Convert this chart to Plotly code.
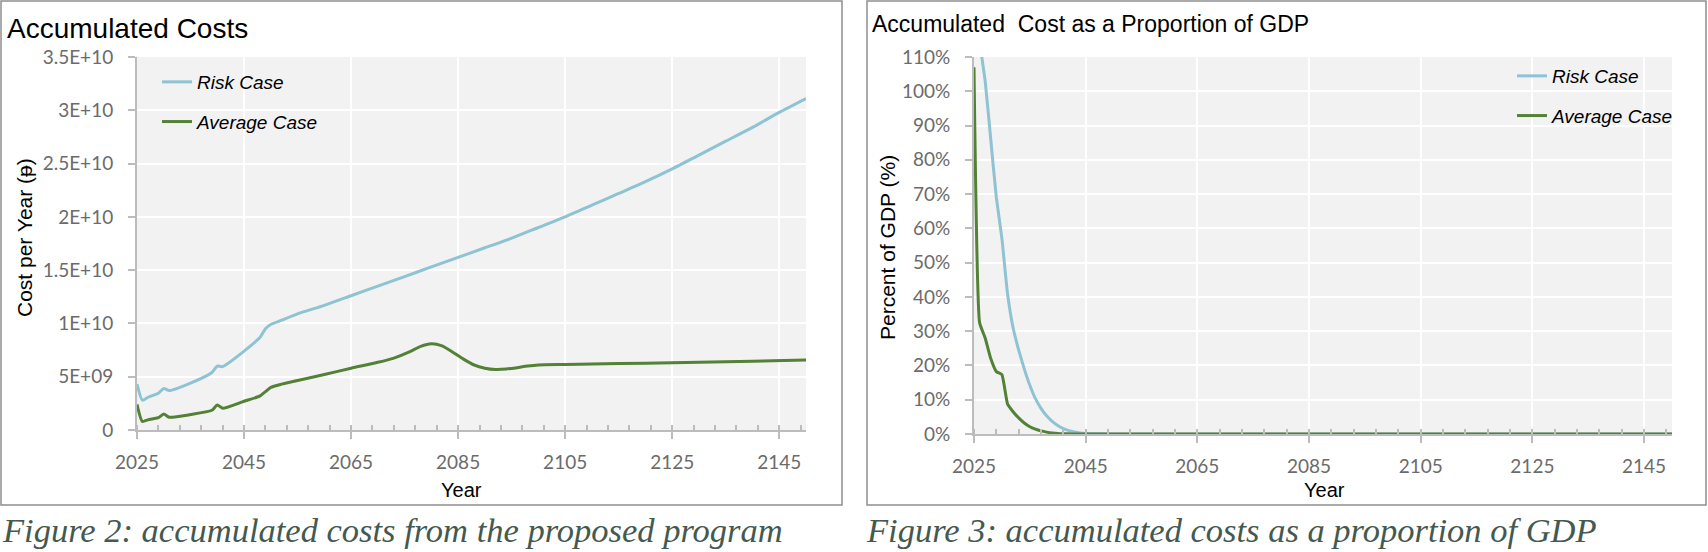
import plotly.graph_objects as go

# Figure 2 - accumulated costs (values in pesos)
cost_years = [2025, 2026, 2027, 2028, 2029, 2030, 2031, 2035, 2039, 2040, 2041,
              2045, 2048, 2049, 2050, 2052, 2055, 2060, 2065, 2070, 2075, 2080,
              2085, 2090, 2095, 2100, 2105, 2110, 2115, 2120, 2125, 2130, 2135,
              2140, 2145, 2150]
risk_cost = [4.3e9, 2.8e9, 3.05e9, 3.25e9, 3.45e9, 3.9e9, 3.7e9, 4.4e9, 5.4e9,
             6.0e9, 5.95e9, 7.4e9, 8.7e9, 9.5e9, 9.9e9, 10.3e9, 10.9e9, 11.7e9,
             12.6e9, 13.5e9, 14.4e9, 15.3e9, 16.2e9, 17.1e9, 18.0e9, 19.0e9,
             20.0e9, 21.1e9, 22.2e9, 23.3e9, 24.5e9, 25.8e9, 27.1e9, 28.4e9,
             29.8e9, 31.1e9]

avg_years = [2025, 2026, 2027, 2028, 2029, 2030, 2031, 2035, 2039, 2040, 2041,
             2045, 2048, 2049, 2050, 2052, 2055, 2060, 2065, 2070, 2073, 2076,
             2078, 2080, 2082, 2084, 2086, 2088, 2090, 2092, 2094, 2096, 2098,
             2100, 2105, 2110, 2120, 2130, 2140, 2150]
avg_cost = [2.4e9, 0.8e9, 0.95e9, 1.05e9, 1.15e9, 1.5e9, 1.2e9, 1.45e9, 1.85e9,
            2.35e9, 2.05e9, 2.7e9, 3.2e9, 3.6e9, 4.0e9, 4.3e9, 4.65e9, 5.2e9,
            5.8e9, 6.35e9, 6.75e9, 7.35e9, 7.85e9, 8.1e9, 7.9e9, 7.3e9, 6.65e9,
            6.1e9, 5.8e9, 5.68e9, 5.72e9, 5.85e9, 6.0e9, 6.1e9, 6.15e9, 6.2e9,
            6.27e9, 6.35e9, 6.45e9, 6.58e9]

cost_tickvals = [0, 5e9, 1e10, 1.5e10, 2e10, 2.5e10, 3e10, 3.5e10]
cost_ticktext = ["0", "5E+09", "1E+10", "1.5E+10", "2E+10", "2.5E+10", "3E+10", "3.5E+10"]

# Figure 3 - accumulated cost as share of GDP (percent)
gdp_years = [2025, 2026, 2027, 2028, 2029, 2030, 2031, 2032, 2033, 2034, 2035,
             2036, 2037, 2038, 2039, 2040, 2041, 2042, 2043, 2044, 2045, 2046,
             2050, 2100, 2150]
risk_pct = [160, 115, 103, 86, 69, 57, 41, 31, 24.5, 19, 14.2, 10.3, 7.5, 5.3,
            3.7, 2.5, 1.6, 1.0, 0.6, 0.3, 0.15, 0.08, 0.02, 0, 0]
avg_pct = [107, 32.5, 28, 22, 18.2, 17.3, 8.8, 6.5, 4.7, 3.2, 2.1, 1.4, 0.9,
           0.55, 0.3, 0.15, 0.08, 0.04, 0.02, 0.01, 0, 0, 0, 0, 0]

pct_tickvals = [0, 10, 20, 30, 40, 50, 60, 70, 80, 90, 100, 110]
pct_ticktext = ["0%", "10%", "20%", "30%", "40%", "50%", "60%", "70%", "80%",
                "90%", "100%", "110%"]

W, H = 1708, 552
blue = "#8dc3d3"
green = "#538135"
axis_grey = "#bcbcbc"
tick_font = dict(family="Lato, Open Sans, sans-serif", size=19, color="#6b6b6b")
xlabel_font = dict(family="Liberation Sans, Arial, sans-serif", size=20, color="black")
ylabel_font = dict(family="Liberation Sans, Arial, sans-serif", size=21, color="black")
legend_font = dict(family="Liberation Sans, Arial, sans-serif", size=19, color="black", style="italic")


def px(x):
    return x / W


def py(y):
    return 1 - y / H


def year_axis(domain, anchor):
    return dict(
        domain=domain, anchor=anchor, range=[2025, 2150], automargin=False,
        tickmode="linear", tick0=2025, dtick=20,
        ticks="outside", ticklen=7, tickwidth=2, tickcolor=axis_grey,
        showline=True, linecolor=axis_grey, linewidth=2,
        showgrid=True, gridcolor="white", gridwidth=2, zeroline=False,
        minor=dict(tick0=2025, dtick=4, ticks="inside", ticklen=5,
                   tickwidth=1.5, tickcolor=axis_grey, showgrid=False),
        tickfont=tick_font, ticklabelstandoff=7,
    )


def value_axis(domain, anchor, rng, vals, text):
    return dict(
        domain=domain, anchor=anchor, range=rng, automargin=False,
        tickmode="array", tickvals=vals, ticktext=text,
        ticks="outside", ticklen=7, tickwidth=2, tickcolor=axis_grey,
        showline=True, linecolor=axis_grey, linewidth=2,
        showgrid=True, gridcolor="white", gridwidth=2, zeroline=False,
        tickfont=tick_font, ticklabelstandoff=11,
    )


fig = go.Figure()

fig.add_trace(go.Scatter(x=cost_years, y=risk_cost, name="Risk Case", mode="lines",
                         line=dict(color=blue, width=3, shape="spline", smoothing=0.6),
                         xaxis="x", yaxis="y", legend="legend", legendgroup="r1"))
fig.add_trace(go.Scatter(x=avg_years, y=avg_cost, name="Average Case", mode="lines",
                         line=dict(color=green, width=3, shape="spline", smoothing=0.6),
                         xaxis="x", yaxis="y", legend="legend", legendgroup="a1"))
fig.add_trace(go.Scatter(x=gdp_years, y=risk_pct, name="Risk Case", mode="lines",
                         line=dict(color=blue, width=3, shape="spline", smoothing=0.4),
                         xaxis="x2", yaxis="y2", legend="legend2", legendgroup="r2"))
fig.add_trace(go.Scatter(x=gdp_years, y=avg_pct, name="Average Case", mode="lines",
                         line=dict(color=green, width=3, shape="spline", smoothing=0.4),
                         xaxis="x2", yaxis="y2", legend="legend2", legendgroup="a2"))

fig.update_layout(
    width=W, height=H,
    margin=dict(l=0, r=0, t=0, b=0, pad=0, autoexpand=False),
    paper_bgcolor="white", plot_bgcolor="#f2f2f2",
    xaxis=year_axis([px(137), px(806)], "y"),
    yaxis=value_axis([py(430), py(57)], "x", [0, 3.5e10], cost_tickvals, cost_ticktext),
    xaxis2=year_axis([px(974), px(1672)], "y2"),
    yaxis2=value_axis([py(434), py(57)], "x2", [0, 110], pct_tickvals, pct_ticktext),
    legend=dict(x=px(157), y=py(63), xanchor="left", yanchor="top",
                bgcolor="rgba(0,0,0,0)", font=legend_font,
                traceorder="grouped", tracegroupgap=12),
    legend2=dict(x=px(1512), y=py(57), xanchor="left", yanchor="top",
                 bgcolor="rgba(0,0,0,0)", font=legend_font,
                 traceorder="grouped", tracegroupgap=12),
    shapes=[
        dict(type="rect", xref="paper", yref="paper", x0=px(1), x1=px(842),
             y0=py(505), y1=py(1), line=dict(color="#8f8f8f", width=1.5)),
        dict(type="rect", xref="paper", yref="paper", x0=px(867), x1=px(1706),
             y0=py(505), y1=py(1), line=dict(color="#8f8f8f", width=1.5)),
    ],
)

title_font = dict(family="Liberation Sans, Arial, sans-serif", color="black")
caption_font = dict(family="Liberation Serif, Times New Roman, serif", size=34.5,
                    color="#44594f", style="italic")

annotations = [
    dict(text="Accumulated Costs", x=px(5), y=py(28), xanchor="left", yanchor="middle",
         font=dict(size=28, **title_font)),
    dict(text="Accumulated  Cost as a Proportion of GDP", x=px(870), y=py(24),
         xanchor="left", yanchor="middle", font=dict(size=23, **title_font)),
    dict(text="Cost per Year (ᵽ)", x=px(24), y=py(238), textangle=-90,
         xanchor="center", yanchor="middle", font=ylabel_font),
    dict(text="Percent of GDP (%)", x=px(887), y=py(247), textangle=-90,
         xanchor="center", yanchor="middle", font=ylabel_font),
    dict(text="Year", x=px(461), y=py(490), xanchor="center", yanchor="middle",
         font=xlabel_font),
    dict(text="Year", x=px(1324), y=py(490), xanchor="center", yanchor="middle",
         font=xlabel_font),
    dict(text="Figure 2: accumulated costs from the proposed program", x=px(0),
         y=py(530), xanchor="left", yanchor="middle", font=caption_font),
    dict(text="Figure 3: accumulated costs as a proportion of GDP", x=px(864),
         y=py(530), xanchor="left", yanchor="middle", font=caption_font),
]
for a in annotations:
    fig.add_annotation(xref="paper", yref="paper", showarrow=False, **a)

fig.write_html("out.html", config={"displayModeBar": False},
               post_script="document.body.style.margin = '0px';")
